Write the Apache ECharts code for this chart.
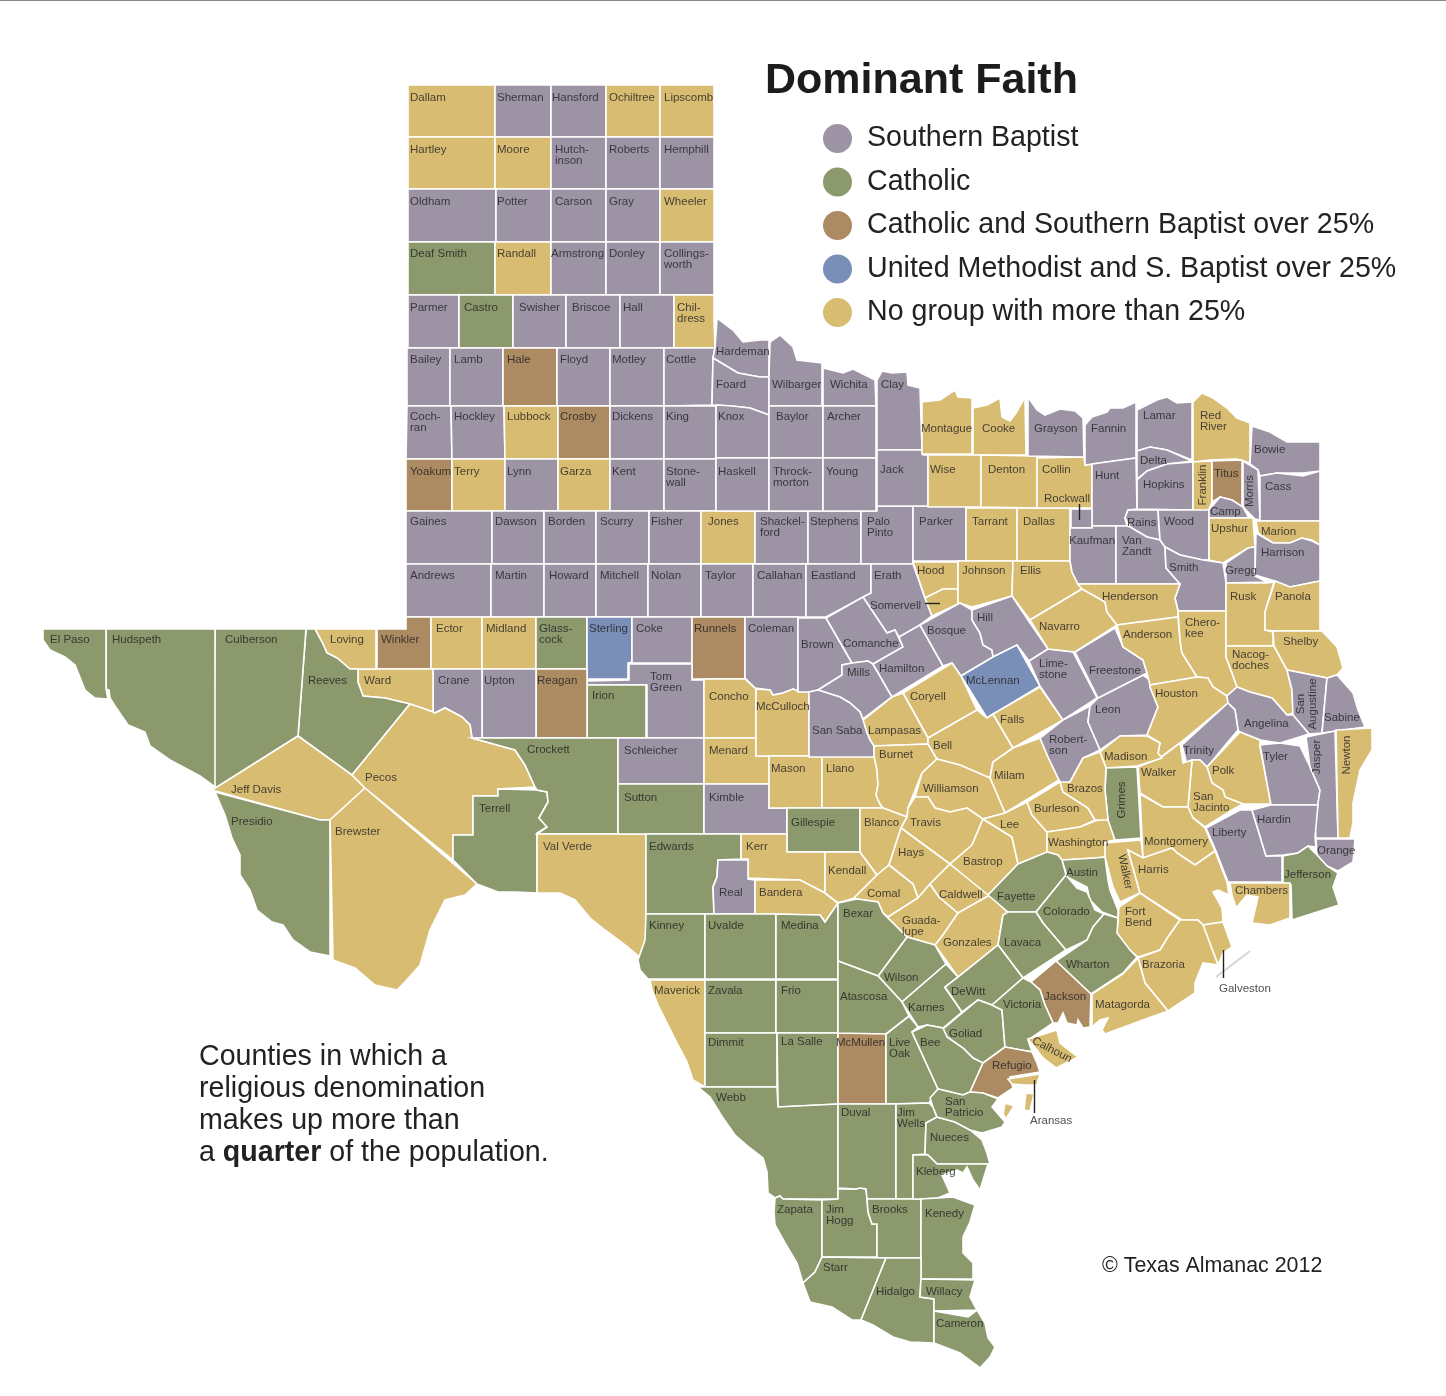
<!DOCTYPE html>
<html>
<head>
<meta charset="utf-8">
<title>Dominant Faith</title>
<script src="https://cdn.jsdelivr.net/npm/echarts@6/dist/echarts.min.js"></script>
<style>
html, body { margin: 0; padding: 0; background: #fff; }
#chart { width: 1446px; height: 1396px; }
</style>
</head>
<body>
<div id="chart"></div>
<script>
var faithNames = [
  'Southern Baptist',
  'Catholic',
  'Catholic and Southern Baptist over 25%',
  'United Methodist and S. Baptist over 25%',
  'No group with more than 25%'
];
var faithColors = ['#9c93a4', '#8b996d', '#ac8a62', '#7a8fb8', '#d8bc72'];

// counties by dominant faith
var southernBaptist = ['Sherman','Hansford','Hutchinson','Roberts','Hemphill','Oldham','Potter','Carson','Gray','Armstrong','Donley','Collingsworth','Parmer','Swisher','Briscoe','Hall','Bailey','Lamb','Floyd','Motley','Cottle','Hardeman','Foard','Wilbarger','Wichita','Clay','Cochran','Hockley','Dickens','King','Knox','Baylor','Archer','Lynn','Kent','Stonewall','Haskell','Throckmorton','Young','Jack','Gaines','Dawson','Borden','Scurry','Fisher','Shackelford','Stephens','Palo Pinto','Parker','Andrews','Martin','Howard','Mitchell','Nolan','Taylor','Callahan','Eastland','Erath','Coke','Coleman','Crane','Upton','Tom Green','Schleicher','Kimble','Real','Brown','Comanche','Mills','Hamilton','Bosque','Hill','San Saba','Limestone','Robertson','Leon','Freestone','Grayson','Fannin','Lamar','Delta','Hopkins','Hunt','Rockwall','Kaufman','Van Zandt','Rains','Wood','Smith','Camp','Morris','Bowie','Cass','Harrison','Gregg','Angelina','San Augustine','Sabine','Trinity','Tyler','Jasper','Hardin','Liberty','Orange'];
var catholic = ['Deaf Smith','Castro','Glasscock','Irion','Sutton','Crockett','Terrell','Culberson','Hudspeth','El Paso','Reeves','Presidio','Gillespie','Edwards','Kinney','Uvalde','Medina','Zavala','Frio','Dimmit','La Salle','Webb','Zapata','Jim Hogg','Duval','Jim Wells','Brooks','Starr','Hidalgo','Willacy','Cameron','Kenedy','Kleberg','Nueces','San Patricio','Live Oak','Bee','Goliad','Karnes','Atascosa','Bexar','Wilson','DeWitt','Victoria','Lavaca','Colorado','Fayette','Austin','Wharton','Grimes','Jefferson'];
var catholicAndBaptist = ['Hale','Crosby','Yoakum','Winkler','Reagan','Runnels','McMullen','Jackson','Refugio','Titus'];
var methodistAndBaptist = ['Sterling','McLennan'];
var noGroup = ['Dallam','Ochiltree','Lipscomb','Hartley','Moore','Wheeler','Randall','Childress','Lubbock','Terry','Garza','Jones','Ector','Midland','Loving','Ward','Pecos','Jeff Davis','Brewster','Val Verde','Maverick','Concho','McCulloch','Menard','Mason','Llano','Kerr','Bandera','Kendall','Blanco','Burnet','Lampasas','Coryell','Bell','Falls','Milam','Williamson','Travis','Hays','Comal','Guadalupe','Caldwell','Gonzales','Bastrop','Lee','Burleson','Washington','Brazos','Madison','Walker','Waller','Montgomery','Harris','Fort Bend','Brazoria','Matagorda','Calhoun','Aransas','Galveston','Chambers','Polk','San Jacinto','Houston','Anderson','Cherokee','Nacogdoches','Rusk','Panola','Shelby','Newton','Henderson','Navarro','Ellis','Johnson','Hood','Somervell','Tarrant','Dallas','Denton','Wise','Collin','Montague','Cooke','Red River','Franklin','Upshur','Marion'];
var faithGroups = [southernBaptist, catholic, catholicAndBaptist, methodistAndBaptist, noGroup];

var countyOutlines = {
  'Dallam':'408,85 495,85 495,137 408,137','Sherman':'495,85 551,85 551,137 495,137','Hansford':'551,85 606,85 606,137 551,137','Ochiltree':'606,85 660,85 660,137 606,137','Lipscomb':'660,85 714,85 714,137 660,137',
  'Hartley':'408,137 495,137 495,189 408,189','Moore':'495,137 551,137 551,189 495,189','Hutchinson':'551,137 606,137 606,189 551,189','Roberts':'606,137 660,137 660,189 606,189','Hemphill':'660,137 714,137 714,189 660,189',
  'Oldham':'408,189 496,189 496,242 408,242','Potter':'496,189 551,189 551,242 496,242','Carson':'551,189 606,189 606,242 551,242','Gray':'606,189 660,189 660,242 606,242','Wheeler':'660,189 714,189 714,242 660,242',
  'Deaf Smith':'408,242 495,242 495,295 408,295','Randall':'495,242 551,242 551,295 495,295','Armstrong':'551,242 606,242 606,295 551,295','Donley':'606,242 660,242 660,295 606,295','Collingsworth':'660,242 714,242 714,295 660,295',
  'Parmer':'408,295 459,295 459,348 408,348','Castro':'459,295 513,295 513,348 459,348','Swisher':'513,295 566,295 566,348 513,348','Briscoe':'566,295 620,295 620,348 566,348','Hall':'620,295 674,295 674,348 620,348','Childress':'674,295 714,295 714,318 715,348 674,348',
  'Bailey':'407,348 450,348 450,406 407,406','Lamb':'450,348 503,348 503,406 450,406','Hale':'503,348 557,348 557,406 503,406','Floyd':'557,348 610,348 610,406 557,406','Motley':'610,348 664,348 664,406 610,406','Cottle':'664,348 715,348 713,358 712,405 664,406',
  'Cochran':'407,406 451,406 452,459 406,459','Hockley':'451,406 504,406 505,459 452,459','Lubbock':'504,406 558,406 558,459 505,459','Crosby':'558,406 610,406 610,459 558,459','Dickens':'610,406 664,406 664,459 610,459','King':'664,406 716,406 716,459 664,459',
  'Yoakum':'406,459 452,459 452,511 406,511','Terry':'452,459 505,459 505,511 452,511','Lynn':'505,459 558,459 558,511 505,511','Garza':'558,459 610,459 610,511 558,511','Kent':'610,459 664,459 664,511 610,511','Stonewall':'664,459 716,459 716,511 664,511',
  'Gaines':'406,511 492,511 492,564 406,564','Dawson':'492,511 544,511 544,564 492,564','Borden':'544,511 596,511 596,564 544,564','Scurry':'596,511 649,511 649,564 596,564','Fisher':'649,511 701,511 701,564 649,564','Jones':'701,511 755,511 755,564 701,564','Shackelford':'755,511 808,511 808,564 755,564','Stephens':'808,511 861,511 861,564 808,564','Palo Pinto':'861,511 877,511 877,506 913,506 913,564 861,564','Parker':'913,506 966,506 966,561 913,561','Tarrant':'966,508 1017,508 1017,561 966,561','Dallas':'1017,508 1070,508 1070,561 1017,561',
  'Andrews':'406,564 491,564 491,617 406,617','Martin':'491,564 544,564 544,617 491,617','Howard':'544,564 596,564 596,617 544,617','Mitchell':'596,564 648,564 648,617 596,617','Nolan':'648,564 701,564 701,617 648,617','Taylor':'701,564 753,564 753,617 701,617','Callahan':'753,564 806,564 806,617 753,617','Eastland':'806,564 871,564 871,593 826,617 806,617',
  'Erath':'871,564 913,564 925,598 932,616 920,625 899,637 895,630 887,633 863,597 871,593','Hood':'913,562 958,562 958,589 943,589 925,598','Somervell':'925,598 943,589 958,589 958,604 932,616','Johnson':'958,561 1013,561 1012,596 972,607 960,603 958,604',
  'Ellis':'1013,561 1070,561 1072,572 1078,584 1082,589 1030,620 1012,596',
  'Hardeman':'715,348 717,318 733,330 743,342 760,340 769,340 769,377 760,377 738,373 713,358','Foard':'713,358 738,373 760,377 769,377 769,415 750,408 732,406 712,405','Wilbarger':'770,342 780,335 793,347 797,360 822,363 822,406 769,406 769,377','Wichita':'823,368 843,373 853,369 875,380 876,406 823,406','Clay':'882,371 892,373 907,372 908,385 920,388 922,450 877,450 877,380',
  'Knox':'716,405 732,406 750,408 769,415 769,458 716,458','Baylor':'769,406 823,406 823,458 769,458','Archer':'823,406 876,406 876,458 823,458','Haskell':'716,458 769,458 769,511 716,511','Throckmorton':'769,458 823,458 823,511 769,511','Young':'823,458 876,458 876,511 823,511','Jack':'877,450 922,450 923,455 928,455 928,506 877,506',
  'Montague':'922,402 940,400 955,390 958,397 972,398 972,454 922,454','Cooke':'973,408 987,405 1000,398 1002,417 1010,421 1016,413 1025,397 1026,455 973,455','Wise':'928,455 981,455 981,507 928,507','Denton':'981,455 1037,456 1037,508 981,507','Collin':'1037,458 1084,457 1085,465 1092,464 1092,508 1037,508','Grayson':'1028,397 1037,410 1045,415 1060,409 1075,411 1083,418 1084,457 1028,456','Fannin':'1085,425 1092,417 1107,412 1110,408 1123,408 1136,402 1136,458 1085,465',
  'Lamar':'1137,410 1157,400 1167,397 1177,403 1192,402 1192,460 1167,450 1150,447 1137,451','Red River':'1193,402 1202,393 1213,398 1227,408 1237,418 1250,423 1250,463 1237,459 1210,460 1193,462','Bowie':'1252,426 1270,432 1287,442 1320,442 1320,471 1303,473 1277,473 1260,476 1258,470 1250,464',
  'Delta':'1137,451 1150,447 1167,450 1192,461 1167,464 1147,471 1137,479','Hopkins':'1137,480 1147,471 1167,464 1193,462 1193,510 1137,509','Franklin':'1193,462 1212,461 1212,502 1208,511 1193,511','Titus':'1212,461 1242,460 1242,507 1232,500 1220,497 1212,502','Morris':'1243,461 1258,470 1260,520 1255,519 1243,507','Cass':'1260,476 1277,473 1303,476 1320,471 1320,521 1260,521','Marion':'1256,521 1320,521 1320,545 1312,540 1302,538 1290,543 1273,543 1258,533','Harrison':'1256,533 1273,543 1290,543 1302,538 1312,541 1320,545 1320,581 1290,587 1275,581 1255,575',
  'Hunt':'1092,464 1136,458 1137,509 1128,510 1125,518 1127,526 1092,526','Rockwall':'1071,509 1092,509 1092,528 1071,528','Kaufman':'1070,528 1092,528 1092,526 1116,526 1116,584 1078,584 1072,572 1070,561','Rains':'1128,510 1158,510 1160,540 1147,537 1130,527 1125,518','Van Zandt':'1116,526 1127,526 1130,527 1147,537 1160,540 1165,547 1166,568 1180,584 1116,584','Wood':'1158,510 1209,510 1209,560 1203,560 1180,555 1165,547 1160,540','Camp':'1209,510 1220,497 1232,500 1243,507 1249,518 1209,518','Upshur':'1209,518 1253,518 1255,547 1248,548 1223,563 1209,560','Smith':'1165,547 1180,555 1203,560 1223,563 1226,583 1226,611 1178,611 1175,598 1180,584 1166,568','Gregg':'1226,563 1248,548 1255,547 1255,576 1267,582 1226,583',
  'Winkler':'377,629 406,629 406,617 431,617 431,669 377,669','Ector':'431,617 482,617 482,669 431,669','Midland':'482,617 536,617 536,669 482,669','Glasscock':'536,617 587,617 587,669 536,669','Sterling':'587,617 632,617 632,662 628,663 628,679 587,679','Coke':'632,617 692,617 692,663 632,663','Runnels':'692,617 745,617 745,679 692,679','Coleman':'745,617 798,617 798,691 793,689 783,693 773,695 770,690 755,688 745,678',
  'Tom Green':'629,664 692,664 692,680 704,680 704,738 647,738 647,685 587,685 587,681 629,680','Irion':'587,685 646,685 646,738 587,738','Reagan':'536,669 587,669 587,738 536,738','Upton':'482,669 536,669 536,738 482,738','Crane':'433,669 482,669 482,738 472,738 470,725 462,717 445,708 435,713 433,712','Ward':'358,669 433,669 433,712 422,708 410,704 385,698 363,696 358,682','Loving':'315,629 376,629 376,669 350,669 337,658 327,653 322,642',
  'Reeves':'306,629 315,629 322,642 327,653 337,658 350,669 358,669 358,682 363,696 385,698 410,704 352,775 298,736','Culberson':'215,629 306,629 298,736 213,790','Hudspeth':'106,629 215,629 215,787 200,776 170,760 150,746 145,732 128,725 115,706 110,698 109,690 106,689','El Paso':'43,629 106,629 106,689 108,699 95,698 85,690 75,665 65,657 50,650 43,640',
  'Jeff Davis':'212,790 298,736 352,775 365,788 330,820 320,820','Presidio':'215,792 320,820 330,820 330,956 310,952 293,940 283,925 272,922 257,910 250,890 240,875 240,855 232,838 225,815','Brewster':'330,820 365,788 477,884 465,895 445,900 430,930 420,965 405,982 397,990 375,985 355,968 333,960','Pecos':'410,704 422,708 433,712 435,713 445,708 462,717 470,725 472,738 490,743 515,750 525,765 535,787 498,789 498,796 473,796 473,835 453,835 453,860 365,788 352,775',
  'Terrell':'498,789 537,790 547,792 548,802 539,818 547,827 537,833 537,893 515,892 498,892 477,884 453,860 453,835 473,835 473,796 498,796','Crockett':'472,738 618,738 618,834 537,834 547,827 539,818 548,802 547,792 537,790 535,787 525,765 515,750 490,743','Val Verde':'537,834 646,834 646,940 641,958 625,945 605,930 590,918 575,900 560,893 537,893',
  'Schleicher':'618,738 704,738 704,784 618,784','Sutton':'618,784 704,784 704,834 618,834','Concho':'704,679 745,679 756,689 756,738 704,738','Menard':'704,738 756,738 756,756 769,756 769,784 704,784','Kimble':'704,784 769,784 769,808 787,808 787,834 704,834','McCulloch':'756,689 770,690 773,695 783,693 793,689 798,691 809,692 809,756 756,756','Mason':'769,756 822,756 822,808 769,808','Llano':'822,756 874,756 877,770 878,785 876,795 880,804 883,808 822,808','Gillespie':'787,808 860,808 860,852 787,852',
  'Edwards':'646,834 741,834 741,859 718,860 717,877 713,887 714,914 646,914','Kerr':'741,834 787,834 787,852 825,852 825,893 800,880 748,878 748,859 741,859','Real':'718,860 748,860 748,879 755,880 755,914 714,914 713,887 717,877','Bandera':'755,880 800,880 825,893 838,903 825,922 820,915 755,914','Kendall':'825,852 860,852 877,875 854,898 838,903 825,893',
  'Kinney':'646,914 705,914 705,979 648,979 640,970 638,960 645,940','Uvalde':'705,914 776,914 776,979 705,979','Medina':'776,914 820,915 825,922 838,903 838,979 776,979','Maverick':'650,980 705,980 705,1087 693,1080 687,1062 677,1043 667,1023 658,1005 652,990','Zavala':'705,980 776,980 776,1033 705,1033','Frio':'776,980 838,980 838,1033 776,1033','Dimmit':'705,1033 777,1033 777,1087 705,1087','La Salle':'777,1033 838,1033 838,1104 778,1107','McMullen':'838,1033 886,1033 886,1104 838,1104','Live Oak':'886,1034 909,1016 918,1027 912,1032 938,1089 929,1103 886,1104',
  'Webb':'698,1087 777,1087 778,1107 838,1104 838,1199 783,1199 780,1196 775,1198 768,1193 767,1172 763,1158 750,1148 735,1135 723,1118 710,1097','Zapata':'775,1198 780,1196 783,1199 822,1200 822,1257 815,1272 803,1283 797,1263 785,1243 775,1225 774,1212','Jim Hogg':'822,1200 838,1199 838,1189 856,1189 860,1188 866,1189 867,1199 868,1212 872,1224 877,1224 877,1257 822,1257','Duval':'838,1104 896,1104 896,1199 867,1199 866,1189 860,1188 856,1189 838,1188','Jim Wells':'896,1104 929,1103 933,1107 937,1117 926,1123 925,1154 913,1155 913,1199 896,1199','Brooks':'867,1199 921,1199 921,1258 877,1258 877,1224 872,1224 868,1212',
  'Nueces':'926,1123 937,1117 955,1122 970,1130 982,1140 987,1153 990,1164 937,1164 928,1155 925,1154','Kleberg':'913,1155 928,1155 937,1164 988,1164 980,1190 973,1180 967,1167 963,1173 957,1170 942,1175 950,1193 938,1198 921,1199 913,1199','Kenedy':'921,1199 938,1198 953,1197 975,1205 970,1222 963,1237 963,1253 973,1263 973,1279 921,1279','Starr':'822,1257 886,1258 861,1320 852,1320 832,1307 810,1302 803,1283 815,1272','Hidalgo':'886,1258 921,1258 921,1279 920,1297 934,1299 934,1343 910,1342 893,1337 873,1325 861,1320','Willacy':'921,1279 975,1280 970,1297 977,1310 934,1311 934,1299 920,1297','Cameron':'934,1311 968,1317 977,1310 985,1323 988,1338 995,1347 990,1357 980,1368 960,1353 934,1343',
  'Brown':'798,618 826,618 852,663 842,665 842,675 818,690 809,692 798,692','Comanche':'826,618 863,597 887,633 895,630 903,647 873,664 868,661 852,663','Mills':'842,665 852,663 868,661 873,664 892,697 863,719 860,712 850,703 840,697 818,690 842,675','Hamilton':'873,664 903,647 899,637 920,625 943,666 892,697','Bosque':'920,625 960,603 972,610 972,620 980,633 983,645 992,650 993,657 961,676 952,663 943,666','Hill':'972,610 1012,596 1028,620 1048,649 1029,661 1017,645 993,657 992,650 983,645 980,633 972,620','McLennan':'961,676 993,657 1017,645 1040,686 987,718','Coryell':'903,693 952,663 961,676 977,710 928,738','Lampasas':'863,720 892,697 903,693 928,738 928,744 874,746 870,740 867,733','San Saba':'809,692 818,690 840,697 850,703 860,712 863,720 867,733 870,740 874,746 874,757 809,757',
  'Burnet':'874,746 928,744 937,759 922,773 908,808 907,817 883,808 880,804 876,795 878,785 877,770 874,756','Bell':'928,738 977,710 987,718 993,714 1013,748 993,762 990,778 960,765 937,759 928,744','Falls':'993,714 1040,687 1063,720 1013,748','Limestone':'1029,661 1048,649 1073,652 1097,698 1063,720 1040,686','Milam':'993,762 1013,748 1040,738 1048,757 1059,780 1005,813 990,778','Williamson':'937,759 960,765 990,778 1005,813 983,819 967,808 950,812 935,808 928,797 915,797 922,773','Blanco':'860,808 883,808 907,817 901,828 889,865 877,875 860,852','Travis':'907,817 908,808 915,797 928,797 935,808 950,812 967,808 983,819 972,845 950,864 901,828','Hays':'901,828 950,864 930,884 918,898 913,884 889,865','Comal':'877,875 889,865 913,884 918,898 888,917 883,913 878,902 857,899 854,898',
  'Guadalupe':'888,917 918,898 930,884 939,897 958,913 943,935 935,945 907,937 883,913','Caldwell':'930,884 950,864 990,895 958,913 939,897','Gonzales':'958,913 990,895 1008,913 1003,915 998,945 958,977 935,945 943,935','Bastrop':'983,819 1012,837 1018,864 988,895 950,864 972,845','Lee':'983,819 1005,813 1027,802 1032,815 1047,832 1047,852 1018,864 1012,837','Burleson':'1027,802 1060,782 1063,792 1088,808 1095,820 1080,827 1047,832 1032,815','Washington':'1047,832 1080,827 1095,821 1108,818 1115,840 1106,842 1105,857 1095,858 1062,860 1058,855 1047,852',
  'Robertson':'1040,738 1063,720 1090,706 1088,722 1100,750 1083,758 1070,782 1062,785 1059,780 1048,757','Leon':'1090,706 1098,698 1143,675 1150,680 1150,687 1158,707 1147,735 1120,736 1100,750 1088,722','Freestone':'1075,652 1115,628 1123,647 1143,660 1147,673 1098,698','Navarro':'1030,620 1082,589 1093,595 1105,602 1107,612 1117,625 1075,652 1048,649','Henderson':'1078,584 1180,584 1175,598 1178,611 1178,617 1117,625 1107,612 1105,602 1093,595 1082,589','Anderson':'1117,625 1178,617 1180,640 1182,653 1197,677 1150,685 1147,673 1143,660 1123,647','Cherokee':'1178,611 1226,611 1226,657 1232,673 1237,687 1227,696 1213,687 1208,678 1197,677 1182,653 1180,640','Houston':'1150,685 1197,677 1208,678 1213,687 1227,696 1228,703 1180,743 1160,758 1158,753 1160,743 1147,735 1158,707 1150,687',
  'Rusk':'1226,583 1267,583 1274,582 1265,612 1265,630 1273,632 1273,646 1226,646','Panola':'1265,630 1265,612 1275,581 1290,587 1320,581 1320,631 1273,631','Nacogdoches':'1226,646 1274,646 1287,670 1292,690 1293,713 1287,715 1272,698 1250,692 1237,687 1232,673 1226,657','Shelby':'1273,631 1322,631 1337,647 1343,668 1337,675 1327,678 1287,670 1274,646','San Augustine':'1287,670 1327,678 1325,700 1322,733 1309,734 1293,715 1292,690','Sabine':'1327,678 1337,675 1353,693 1358,710 1365,727 1322,733 1325,700','Angelina':'1237,687 1250,692 1272,698 1287,715 1293,715 1309,734 1280,743 1260,740 1240,732 1238,730 1235,710 1228,703 1227,696',
  'Trinity':'1228,703 1235,710 1238,730 1207,767 1200,760 1192,760 1187,765 1182,745','Polk':'1240,732 1260,740 1260,747 1271,804 1243,804 1225,797 1223,790 1212,783 1207,767','Tyler':'1260,745 1280,743 1300,746 1310,767 1320,790 1318,805 1271,805','Jasper':'1306,737 1335,731 1338,838 1316,838 1315,823 1320,790 1310,767','Newton':'1336,730 1372,728 1372,750 1360,770 1353,803 1353,823 1350,838 1338,838',
  'San Jacinto':'1192,760 1200,760 1207,767 1212,783 1223,790 1225,797 1243,804 1232,810 1205,827 1192,817 1188,807','Walker':'1160,758 1180,743 1183,763 1192,760 1188,807 1163,807 1140,793 1138,767','Madison':'1100,752 1120,736 1147,736 1160,743 1158,753 1162,758 1137,766 1106,768','Grimes':'1106,768 1137,767 1141,838 1115,840 1108,820 1105,790','Brazos':'1100,752 1106,768 1105,790 1108,820 1095,820 1088,808 1063,792 1060,782 1070,782 1083,758','Montgomery':'1140,794 1163,807 1188,807 1193,818 1205,828 1215,851 1195,865 1177,853 1172,848 1143,858',
  'Liberty':'1206,828 1240,810 1252,810 1266,856 1282,856 1282,882 1228,882 1216,851','Hardin':'1252,810 1271,805 1318,805 1315,837 1316,847 1308,846 1298,853 1283,855 1266,856','Orange':'1316,839 1355,839 1353,862 1338,871 1327,866 1317,855','Jefferson':'1283,856 1298,853 1308,846 1317,855 1327,866 1338,873 1333,887 1339,905 1292,920 1291,885 1283,883',
  'Waller':'1105,843 1141,840 1143,858 1128,850 1140,893 1120,902 1113,887 1105,857','Harris':'1128,850 1143,858 1172,848 1177,853 1195,865 1215,851 1227,882 1229,895 1218,890 1213,892 1222,908 1223,922 1203,925 1198,920 1182,920 1140,893','Chambers':'1230,883 1290,883 1290,918 1270,925 1252,923 1258,897 1247,895 1236,908 1232,895','Galveston':'1203,925 1223,922 1232,947 1223,953 1218,965','Fort Bend':'1119,907 1140,893 1180,920 1168,937 1160,950 1138,957 1127,948 1117,933 1118,920','Brazoria':'1138,958 1160,950 1168,937 1180,920 1198,920 1203,925 1218,965 1203,963 1195,983 1195,993 1168,1011 1145,983',
  'Austin':'1062,860 1095,858 1105,857 1108,880 1110,890 1118,910 1118,918 1102,912 1090,900 1087,887 1067,877','Fayette':'988,895 1018,864 1047,852 1058,855 1062,860 1066,875 1036,912 1008,912','Colorado':'1036,912 1066,875 1077,888 1087,892 1095,910 1104,914 1093,927 1087,940 1066,950 1043,923','Lavaca':'1003,915 1008,912 1036,912 1043,923 1066,950 1023,978 998,945','Wharton':'1056,961 1087,940 1093,927 1104,914 1118,918 1117,933 1130,950 1137,957 1123,973 1091,994','Jackson':'1031,982 1056,961 1091,994 1090,1027 1083,1028 1078,1020 1077,1025 1067,1023 1063,1013 1058,1023 1053,1023 1045,1005 1040,990','Matagorda':'1092,994 1123,974 1138,958 1145,983 1168,1011 1143,1020 1105,1034 1102,1030 1108,1018 1100,1020 1092,1027',
  'Wilson':'907,937 935,945 946,964 902,1002 878,976','Bexar':'838,903 857,899 878,902 883,913 907,937 878,976 838,961','Atascosa':'838,961 878,976 902,1002 909,1016 886,1034 838,1033','Karnes':'946,964 958,977 945,988 962,1012 943,1028 927,1025 918,1027 902,1002','DeWitt':'945,987 958,977 998,945 1023,978 992,1005 978,1000 962,1012','Goliad':'943,1029 978,1000 992,1005 1002,1010 1005,1047 983,1063 973,1058 963,1048 947,1037','Victoria':'992,1005 1023,978 1031,982 1040,990 1045,1005 1053,1023 1028,1040 1032,1052 1005,1047 1002,1010','Bee':'912,1032 927,1025 943,1028 947,1037 963,1048 973,1058 983,1063 970,1092 963,1095 938,1089','Refugio':'970,1092 983,1063 1005,1047 1032,1052 1037,1063 1040,1072 1010,1077 1013,1088 998,1098 983,1093','Calhoun':'1028,1039 1057,1030 1060,1043 1078,1057 1056,1068 1043,1058 1037,1050','Aransas':'1008,1079 1040,1074 1037,1085 1025,1085 1012,1084|1026,1093 1034,1094 1030,1111 1024,1110|1005,1103 1014,1106 1006,1119 1003,1114',
  'San Patricio':'930,1098 938,1089 963,1095 970,1092 983,1093 998,1099 992,1107 1005,1122 1002,1127 982,1133 970,1130 955,1122 937,1117 933,1107'
};

// label text, left edge and centre of first line
var countyLabels = [
  ['Dallam',410,97],['Sherman',497,97],['Hansford',552,97],['Ochiltree',609,97],['Lipscomb',664,97],['Hartley',410,149],['Moore',497,149],['Hutch-\ninson',555,149],['Roberts',609,149],['Hemphill',664,149],['Oldham',410,201],['Potter',497,201],['Carson',555,201],['Gray',609,201],['Wheeler',664,201],['Deaf Smith',410,253],['Randall',497,253],['Armstrong',551,253],['Donley',609,253],['Collings-\nworth',664,253],['Parmer',410,307],['Castro',464,307],['Swisher',519,307],['Briscoe',572,307],['Hall',623,307],['Chil-\ndress',677,307],
  ['Bailey',410,359],['Lamb',454,359],['Hale',507,359],['Floyd',560,359],['Motley',612,359],['Cottle',666,359],['Hardeman',716,351],['Foard',716,384],['Wilbarger',772,384],['Wichita',830,384],['Clay',881,384],['Coch-\nran',410,416],['Hockley',454,416],['Lubbock',507,416],['Crosby',560,416],['Dickens',612,416],['King',666,416],['Knox',718,416],['Baylor',776,416],['Archer',827,416],['Montague',921,428],['Cooke',982,428],['Grayson',1034,428],['Fannin',1091,428],['Lamar',1143,415],['Red\nRiver',1200,415],
  ['Yoakum',410,471],['Terry',454,471],['Lynn',507,471],['Garza',560,471],['Kent',612,471],['Stone-\nwall',666,471],['Haskell',718,471],['Throck-\nmorton',773,471],['Young',826,471],['Jack',880,469],['Wise',930,469],['Denton',988,469],['Collin',1042,469],['Hunt',1095,475],['Delta',1140,460],['Hopkins',1143,484],['Bowie',1254,449],['Titus',1214,473],['Cass',1265,486],['Rockwall',1044,498],['Camp',1210,511],['Rains',1127,522],['Wood',1164,521],['Upshur',1211,528],['Marion',1261,531],
  ['Gaines',410,521],['Dawson',495,521],['Borden',548,521],['Scurry',600,521],['Fisher',651,521],['Jones',708,521],['Shackel-\nford',760,521],['Stephens',810,521],['Palo\nPinto',867,521],['Parker',919,521],['Tarrant',972,521],['Dallas',1023,521],['Kaufman',1069,540],['Van\nZandt',1122,540],['Harrison',1261,552],['Smith',1169,567],['Gregg',1225,570],['Andrews',410,575],['Martin',495,575],['Howard',549,575],['Mitchell',600,575],['Nolan',651,575],['Taylor',705,575],['Callahan',757,575],['Eastland',811,575],['Erath',874,575],['Hood',917,570],['Johnson',962,570],['Ellis',1020,570],['Henderson',1102,596],['Rusk',1230,596],['Panola',1275,596],['Somervell',870,605],
  ['Ector',436,628],['Midland',486,628],['Glass-\ncock',539,628],['Sterling',589,628],['Coke',636,628],['Runnels',694,628],['Coleman',748,628],['Hill',977,617],['Bosque',927,630],['Navarro',1039,626],['Anderson',1123,634],['Chero-\nkee',1185,622],['Shelby',1283,641],['El Paso',50,639],['Hudspeth',112,639],['Culberson',225,639],['Loving',330,639],['Winkler',381,639],['Comanche',843,643],['Brown',801,644],['Lime-\nstone',1039,663],['Freestone',1089,670],['Nacog-\ndoches',1232,654],['Mills',847,672],['Hamilton',879,668],['McLennan',966,680],
  ['Reeves',308,680],['Ward',364,680],['Crane',438,680],['Upton',484,680],['Reagan',537,680],['Tom\nGreen',650,676],['Irion',592,695],['Concho',709,696],['Coryell',910,696],['Houston',1155,693],['Angelina',1244,723],['McCulloch',756,706],['Leon',1095,709],['San Saba',812,730],['Lampasas',868,730],['Falls',1000,719],['Sabine',1324,717],['Robert-\nson',1049,739],['Bell',933,745],['Madison',1104,756],['Trinity',1183,750],['Crockett',527,749],['Schleicher',624,750],['Menard',709,750],['Burnet',879,754],['Tyler',1263,756],['Polk',1212,770],['Walker',1141,772],['Mason',771,768],['Llano',826,768],['Milam',994,775],['Pecos',365,777],['Williamson',923,788],['Jeff Davis',231,789],['Brazos',1067,788],['San\nJacinto',1193,796],['Sutton',624,797],['Kimble',709,797],
  ['Terrell',479,808],['Burleson',1034,808],['Hardin',1257,819],['Gillespie',791,822],['Blanco',864,822],['Travis',910,822],['Presidio',231,821],['Lee',1000,824],['Liberty',1212,832],['Brewster',335,831],['Montgomery',1144,841],['Washington',1048,842],['Val Verde',543,846],['Edwards',649,846],['Kerr',746,846],['Hays',898,852],['Orange',1317,850],['Bastrop',963,861],['Harris',1138,869],['Kendall',828,870],['Austin',1066,872],['Jefferson',1284,874],['Real',719,892],['Bandera',759,892],['Comal',867,893],['Caldwell',939,894],['Fayette',997,896],['Chambers',1235,890],['Bexar',843,913],['Colorado',1043,911],['Fort\nBend',1125,911],['Guada-\nlupe',902,920],
  ['Kinney',649,925],['Uvalde',708,925],['Medina',781,925],['Gonzales',943,942],['Lavaca',1004,942],['Wharton',1066,964],['Brazoria',1142,964],['Wilson',884,977],['Maverick',654,990],['Zavala',708,990],['Frio',781,990],['DeWitt',951,991],['Atascosa',840,996],['Jackson',1044,996],['Matagorda',1095,1004],['Karnes',908,1007],['Victoria',1003,1004],['Goliad',949,1033],['Dimmit',708,1042],['La Salle',781,1041],['McMullen',836,1042],['Live\nOak',889,1042],['Bee',920,1042],['Refugio',992,1065],['Webb',716,1097],['San\nPatricio',945,1101],['Duval',841,1112],['Jim\nWells',897,1112],['Nueces',930,1137],['Kleberg',916,1171],['Zapata',777,1209],['Jim\nHogg',826,1209],['Brooks',872,1209],['Kenedy',925,1213],['Starr',823,1267],['Hidalgo',876,1291],['Willacy',926,1291],['Cameron',936,1323],['Galveston',1219,988],['Aransas',1030,1120]
];

// labels set along the county, text, centre, rotation
var turnedLabels = [
  ['Franklin',1203,485,90],['Morris',1250,491,90],['Grimes',1122,800,90],['Jasper',1317,757,90],['Newton',1347,755,90],['San\nAugustine',1307,704,90],['Walker',1125,872,-78],['Calhoun',1052,1050,-27]
];

// pointers from a label to a small county
var pointerLines = [
  [[925,603],[940,603]],
  [[1079,504],[1079,520]],
  [[1223,950],[1223,978]],
  [[1034,1080],[1034,1113]]
];
var islandLines = [
  [[1216,977],[1250,951]]
];

var countyFeatures = Object.keys(countyOutlines).map(function (name) {
  var parts = countyOutlines[name].split('|').map(function (part) {
    var ring = part.split(' ').map(function (pair) {
      var xy = pair.split(',');
      return [+xy[0], -xy[1]];
    });
    ring.push(ring[0]);
    return [ring];
  });
  return {
    type: 'Feature',
    properties: { name: name },
    geometry: { type: 'MultiPolygon', coordinates: parts }
  };
});
echarts.registerMap('texas', { type: 'FeatureCollection', features: countyFeatures });

var countyData = [];
faithGroups.forEach(function (group, idx) {
  group.forEach(function (name) {
    countyData.push({ name: name, value: idx });
  });
});

var labelData = countyLabels.map(function (item) {
  return { name: item[0], value: [item[1], -item[2]] };
});
var turnedData = turnedLabels.map(function (item) {
  return {
    name: item[0],
    value: [item[1], -item[2]],
    label: { rotate: item[3] }
  };
});

function toLineData(list) {
  return list.map(function (line) {
    return { coords: line.map(function (p) { return [p[0], -p[1]]; }) };
  });
}

var chart = echarts.init(document.getElementById('chart'), null, { renderer: 'canvas' });

var fontName = '"Liberation Sans", Arial, sans-serif';

var option = {
  animation: false,
  backgroundColor: '#fff',
  graphic: [{
    type: 'rect',
    silent: true,
    shape: { x: 0, y: 0, width: 1446, height: 1 },
    style: { fill: '#8a8a8a' }
  }],
  title: [{
    text: 'Dominant Faith',
    left: 765,
    top: 60,
    padding: 0,
    textStyle: { fontFamily: fontName, fontSize: 43, fontWeight: 'bold', color: '#1c1c1c' }
  }, {
    text: 'Counties in which a\nreligious denomination\nmakes up more than\na {b|quarter} of the population.',
    left: 199,
    top: 1041,
    padding: 0,
    textStyle: {
      fontFamily: fontName, fontSize: 28.6, fontWeight: 'normal', color: '#222', lineHeight: 32,
      rich: { b: { fontFamily: fontName, fontSize: 28.6, fontWeight: 'bold', color: '#222', lineHeight: 32 } }
    }
  }, {
    text: '© Texas Almanac 2012',
    left: 1102,
    top: 1256,
    padding: 0,
    textStyle: { fontFamily: fontName, fontSize: 21.4, fontWeight: 'normal', color: '#222' }
  }],
  visualMap: {
    type: 'piecewise',
    seriesIndex: 0,
    left: 823,
    top: 124,
    padding: 0,
    orient: 'vertical',
    inverse: true,
    align: 'left',
    selectedMode: false,
    hoverLink: false,
    itemSymbol: 'circle',
    itemWidth: 29,
    itemHeight: 29,
    itemGap: 14.5,
    textGap: 15,
    textStyle: { fontFamily: fontName, fontSize: 28.6, color: '#222' },
    pieces: faithNames.map(function (name, idx) {
      return { value: idx, label: name, color: faithColors[idx] };
    })
  },
  geo: {
    map: 'texas',
    aspectScale: 1,
    boundingCoords: [[0, 0], [1446, -1396]],
    left: 0,
    top: 0,
    width: 1446,
    height: 1396,
    roam: false,
    silent: true,
    label: { show: false },
    itemStyle: { areaColor: '#d8bc72', borderColor: '#fff', borderWidth: 1.6 }
  },
  series: [{
    type: 'map',
    geoIndex: 0,
    data: countyData,
    silent: true
  }, {
    type: 'scatter',
    coordinateSystem: 'geo',
    symbolSize: 0,
    silent: true,
    z: 5,
    data: labelData,
    label: {
      show: true,
      position: [0, 0],
      offset: [0, -5],
      align: 'left',
      verticalAlign: 'top',
      fontFamily: fontName,
      fontSize: 11.5,
      lineHeight: 11.5,
      color: '#222',
      formatter: '{b}'
    }
  }, {
    type: 'scatter',
    coordinateSystem: 'geo',
    symbolSize: 0,
    silent: true,
    z: 5,
    data: turnedData,
    label: {
      show: true,
      position: [0, 0],
      align: 'center',
      verticalAlign: 'middle',
      fontFamily: fontName,
      fontSize: 11.5,
      lineHeight: 12,
      color: '#222',
      formatter: '{b}'
    }
  }, {
    type: 'lines',
    coordinateSystem: 'geo',
    silent: true,
    z: 6,
    lineStyle: { color: '#222', width: 1.4, opacity: 1 },
    data: toLineData(pointerLines)
  }, {
    type: 'lines',
    coordinateSystem: 'geo',
    silent: true,
    z: 4,
    lineStyle: { color: '#d6d6d6', width: 2, opacity: 1 },
    data: toLineData(islandLines)
  }]
};

chart.setOption(option);
</script>
</body>
</html>
